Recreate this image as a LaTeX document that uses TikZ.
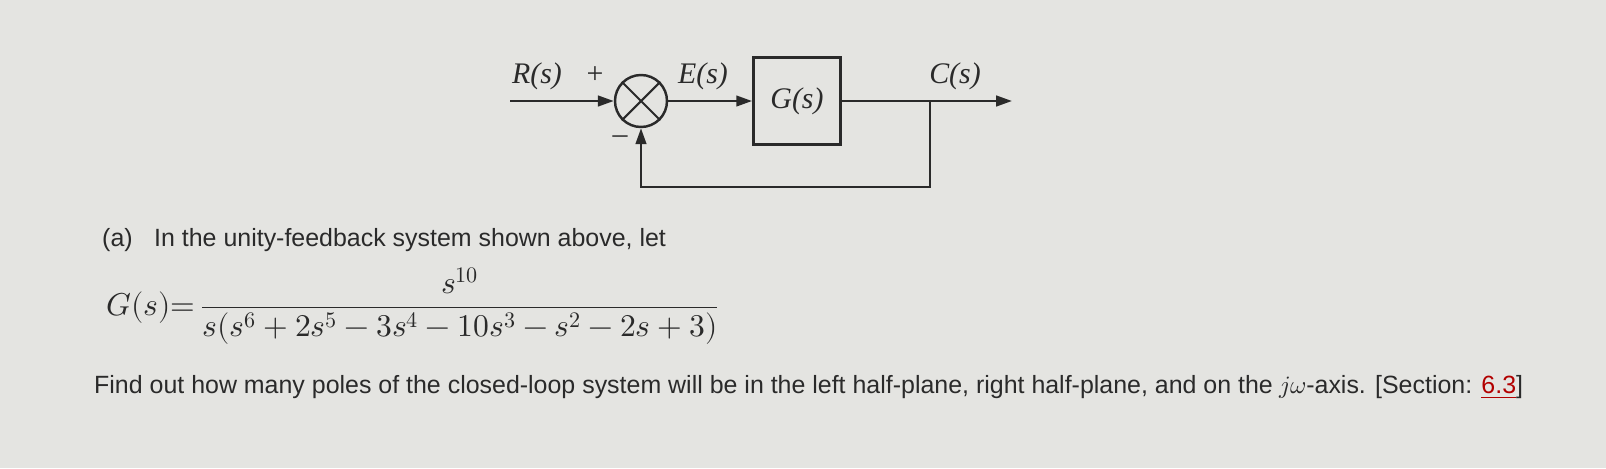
\documentclass[tikz,border=0pt]{standalone}
\usepackage{fontspec}
\setmainfont{Liberation Sans}
\newfontfamily\tms{Liberation Serif}
\usepackage{unicode-math}
\setmathfont{Latin Modern Math}
\usetikzlibrary{arrows.meta}
\definecolor{bg}{HTML}{E4E4E1}
\definecolor{ink}{HTML}{2A2A2A}
\begin{document}
\begin{tikzpicture}[x=0.02cm,y=-0.02cm,
  line/.style={draw=ink,line width=1.4pt},
  arr/.style={line,-{Triangle[length=9pt,width=6pt]}},
  lbl/.style={text=ink,font=\tms\itshape\fontsize{17}{20}\selectfont},
  body/.style={text=ink,font=\fontsize{14.2}{17}\selectfont,anchor=west}]
\fill[bg] (0,0) rectangle (1606,468);
\useasboundingbox (0,0) rectangle (1606,468);
\node[circle,draw=ink,line width=1.4pt,minimum size=52*0.02cm,inner sep=0pt] (sum) at (641,101) {};
\draw[ink,line width=1.2pt] (sum.north west) -- (sum.south east) (sum.north east) -- (sum.south west);
\node[draw=ink,line width=1.6pt,minimum width=87*0.02cm,minimum height=87*0.02cm] (G) at (797,101) {};
\node[lbl] at (797,101) {G(s)};
\coordinate (in) at (510,101);
\coordinate (out) at (1012,101);
\coordinate (br) at (930,101);
\coordinate (c1) at (930,187);
\coordinate (c2) at (641,187);
\draw[arr] (in) -- (sum.west);
\draw[arr] (sum.east) -- (G.west);
\draw[arr] (G.east) -- (out);
\draw[arr] (br) -- (c1) -- (c2) -- (sum.south);
\node[lbl] (R) at (537,76) {R(s)};
\node[lbl,font=\tms\fontsize{17}{20}\selectfont] (plus) at (595,75) {+};
\node[lbl] (E) at (703,76) {E(s)};
\node[lbl] (C) at (955,76) {C(s)};
\node[lbl,font=\tms\fontsize{17}{20}\selectfont] (minus) at (620,140) {–};
\node[body] (a) at (96,240) {(a)};
\node[body] (t1) at (148,240) {In the unity-feedback system shown above, let};
\node[text=ink,anchor=west,font=\fontsize{18}{22}\selectfont] (eq) at (100,306) {$G(s){=}\,\dfrac{s^{10}}{s(s^6+2s^5-3s^4-10s^3-s^2-2s+3)}$};
\node[body] (t2) at (88,387) {Find out how many poles of the closed-loop system will be in the left half-plane, right half-plane, and on the $j\omega$-axis. [Section: \textcolor{red!70!black}{\underline{6.3}}]};
\end{tikzpicture}
\end{document}
